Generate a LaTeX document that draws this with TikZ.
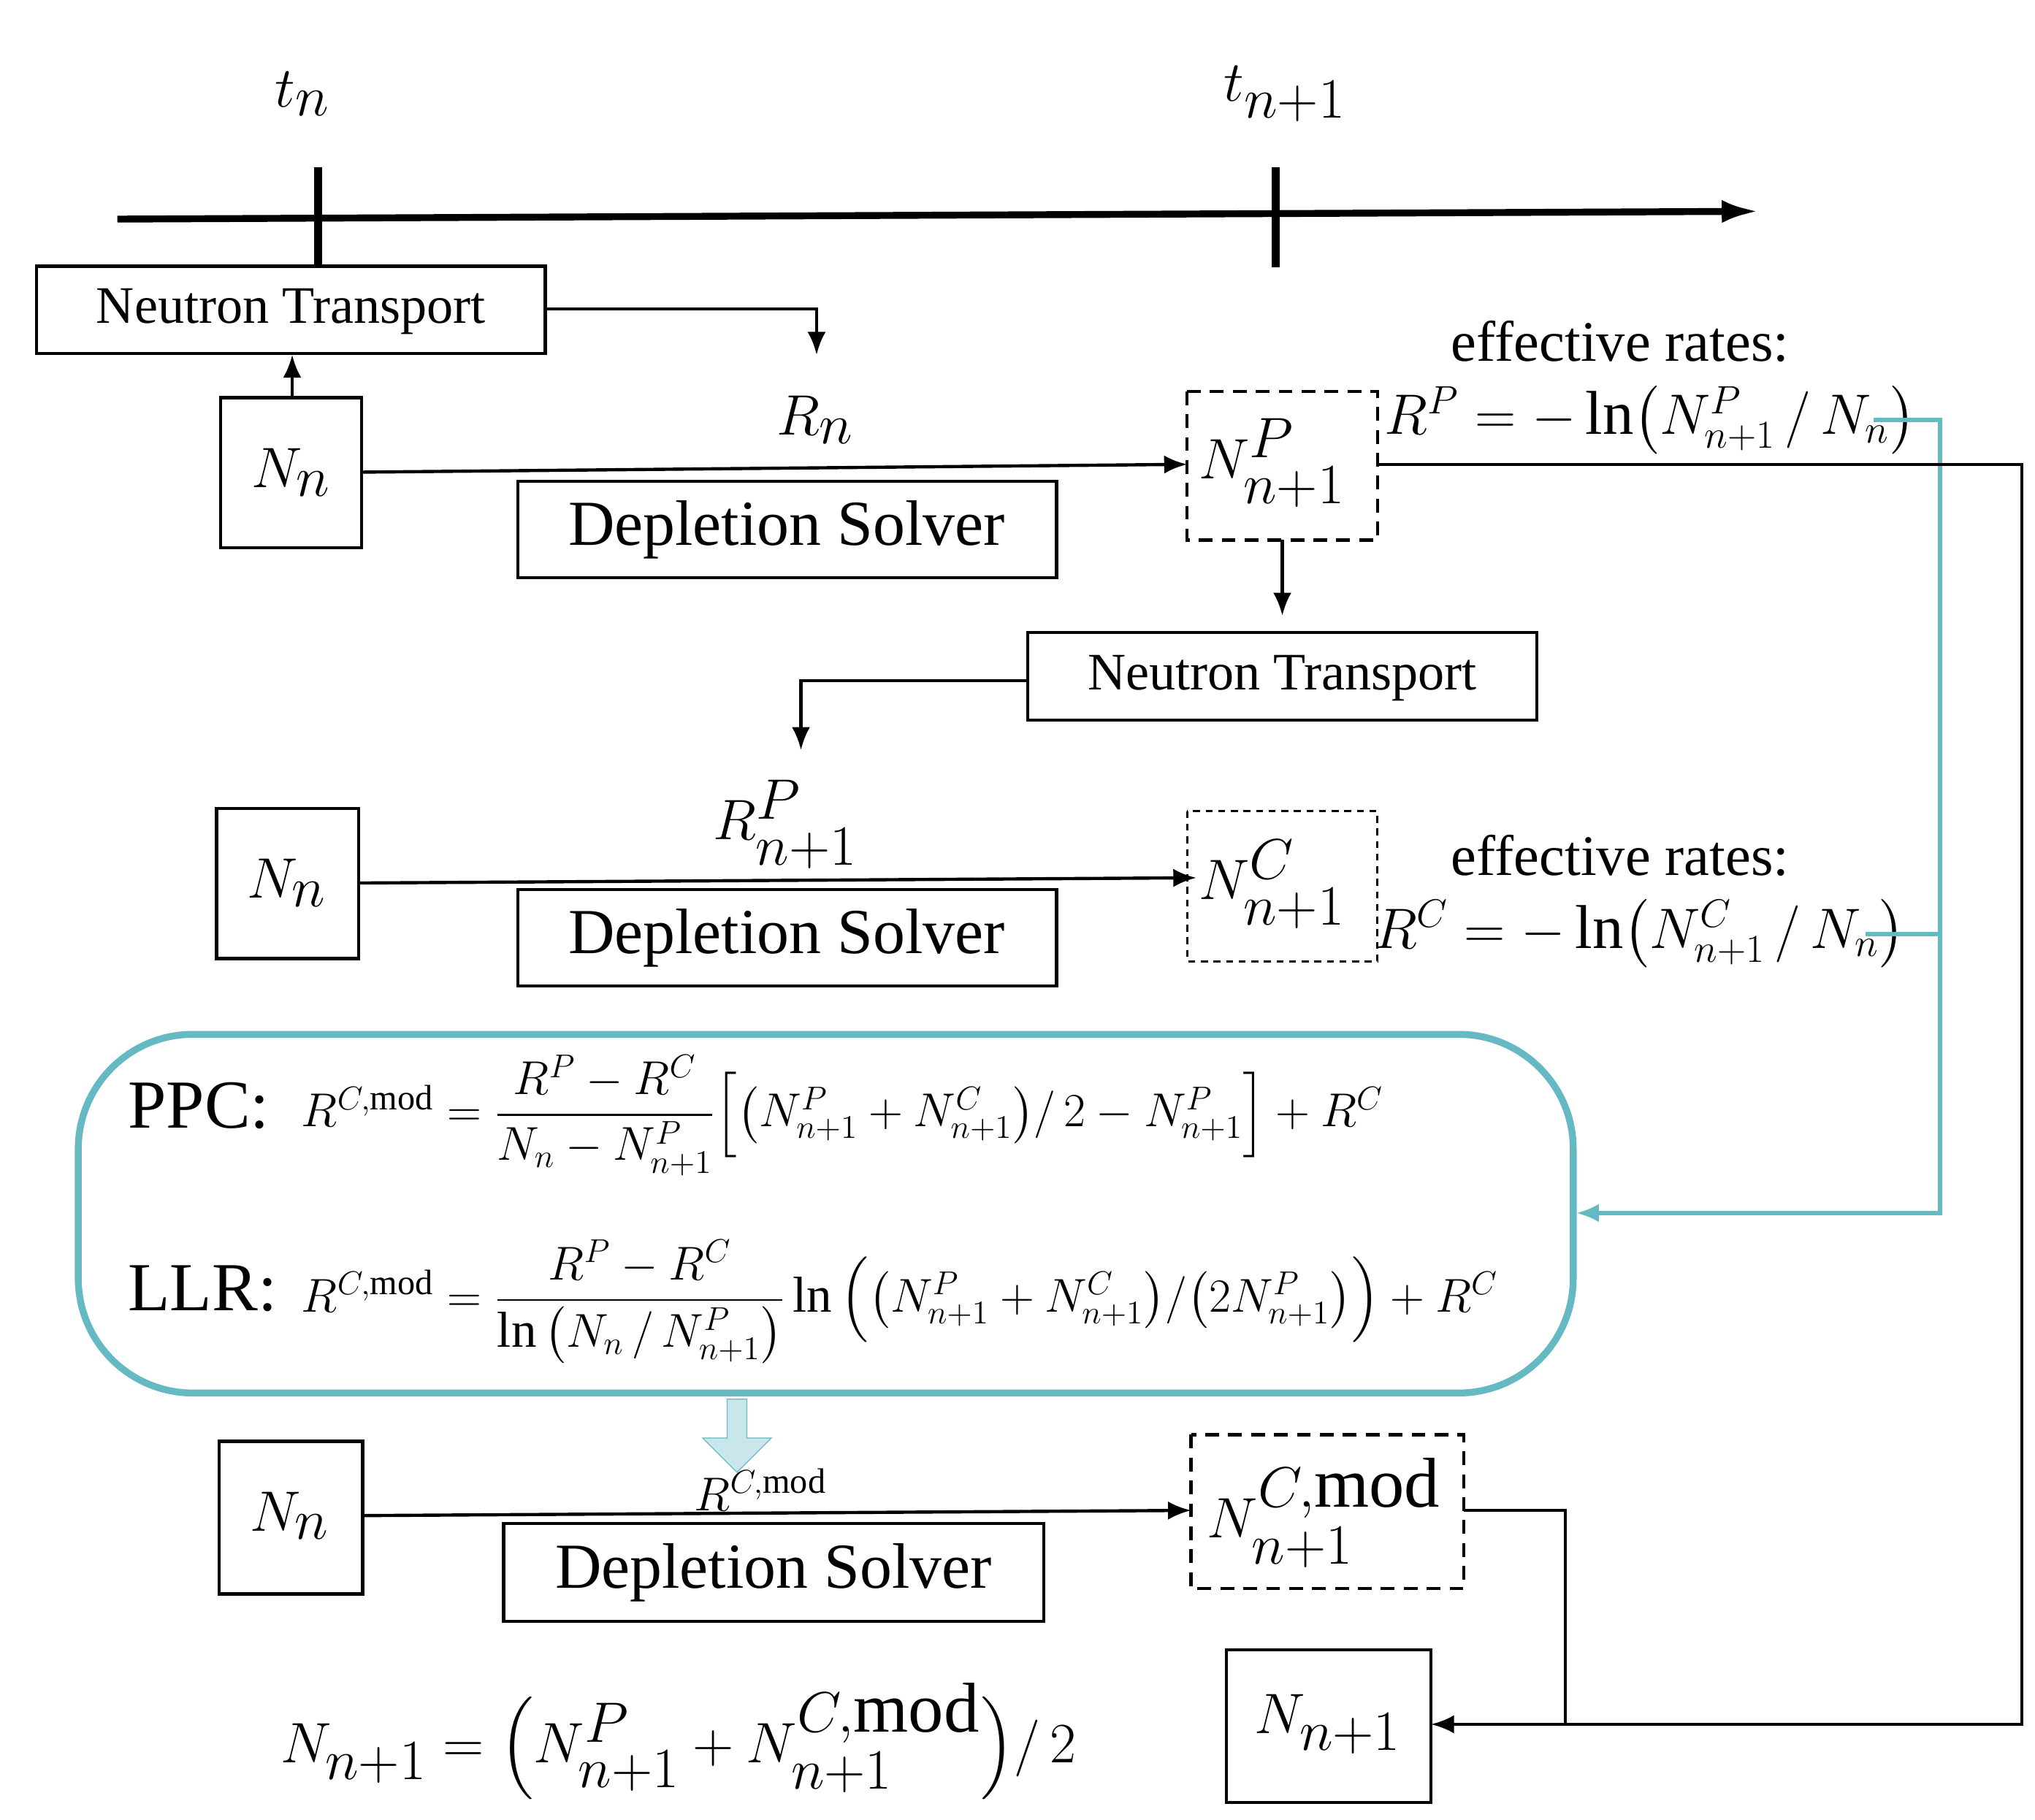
\documentclass[tikz,border=0pt]{standalone}
\usepackage{amsmath}
\usepackage{fontspec}
\setmainfont{Liberation Serif}
\usetikzlibrary{arrows.meta,shapes.arrows}
\definecolor{teal1}{RGB}{100,185,195}
\begin{document}
\begin{tikzpicture}[x=0.02cm,y=-0.02cm,
  box/.style={draw,line width=1.4pt,inner sep=0pt},
  dbox/.style={draw,line width=1.4pt,dashed,inner sep=0pt},
  ln/.style={line width=1.4pt},
  arr/.style={ln,-{Latex[length=10pt,width=8pt]}},
  txt/.style={font=\fontsize{23}{26}\selectfont},
  big/.style={font=\fontsize{44}{48}\selectfont},
  mid/.style={font=\fontsize{22}{26}\selectfont},
  tl/.style={teal1,line width=2pt}]
\useasboundingbox (0,0) rectangle (1560,1395);
% timeline
\coordinate (t0) at (90,168); \coordinate (t1) at (1348,162);
\draw[line width=3pt,-{Latex[length=16pt,width=10pt]}] (t0) -- (t1);
\draw[line width=3.5pt] (244,128) -- (244,205);
\draw[line width=3.5pt] (978,128) -- (978,205);
\node[big] (tn) at (232,72) {$t_n$};
\node[big] (tn1) at (985,72) {$t_{n+1}$};
% row 1
\draw[box] (28,204) rectangle (418,271);
\node[txt] (nt1) at (223,239) {Neutron Transport};
\draw[box] (169,305) rectangle (277,420);
\node[big] (nn1) at (223,362) {$N_n$};
\coordinate (a1) at (224,305); \coordinate (a2) at (224,272);
\draw[arr] (a1) -- (a2);
\coordinate (b1) at (418,237); \coordinate (b2) at (626,237); \coordinate (b3) at (626,272);
\draw[arr] (b1) -- (b2) -- (b3);
\node[big,font=\fontsize{36}{40}\selectfont] (rn) at (625,322) {$R_n$};
\draw[box] (397,369) rectangle (810,443);
\node[txt,font=\fontsize{28}{32}\selectfont] (ds1) at (603,406) {Depletion Solver};
\draw[dbox,dash pattern=on 6pt off 4pt] (910,300) rectangle (1056,414);
\node[big] (np) at (975,355) {$N^P_{n+1}$};
\coordinate (c1) at (277,362); \coordinate (c2) at (910,356);
\draw[arr] (c1) -- (c2);
\coordinate (d1) at (983,414); \coordinate (d2) at (983,472);
\draw[arr] (d1) -- (d2);
% row 2
\draw[box] (788,485) rectangle (1178,552);
\node[txt] (nt2) at (983,520) {Neutron Transport};
\coordinate (e1) at (788,522); \coordinate (e2) at (614,522); \coordinate (e3) at (614,575);
\draw[arr] (e1) -- (e2) -- (e3);
\node[font=\fontsize{36}{40}\selectfont] (rp) at (602,632) {$R^P_{n+1}$};
\draw[box] (166,620) rectangle (275,735);
\node[big] (nn2) at (220,677) {$N_n$};
\draw[box] (397,682) rectangle (810,756);
\node[txt,font=\fontsize{28}{32}\selectfont] (ds2) at (603,719) {Depletion Solver};
\draw[dbox,dash pattern=on 3pt off 2.5pt,line width=1pt] (910,622) rectangle (1056,737);
\node[big] (nc) at (975,678) {$N^C_{n+1}$};
\coordinate (f1) at (275,677); \coordinate (f2) at (917,673);
\draw[arr] (f1) -- (f2);
% effective rates
\node[txt,font=\fontsize{25}{28}\selectfont] (er1) at (1242,262) {effective rates:};
\node[mid,font=\fontsize{27}{30}\selectfont] (f1r) at (1265,322) {$R^P = -\ln\!\big(N^P_{n+1}\,/\,N_n\big)$};
\node[txt,font=\fontsize{25}{28}\selectfont] (er2) at (1242,656) {effective rates:};
\node[mid,font=\fontsize{27}{30}\selectfont] (f2r) at (1257,716) {$R^C = -\ln\!\big(N^C_{n+1}\,/\,N_n\big)$};
\coordinate (g1) at (1436,322); \coordinate (g2) at (1487,322); \coordinate (g3) at (1487,930); \coordinate (g4) at (1208,930);
\draw[tl,-{Latex[length=10pt,width=8pt]}] (g1) -- (g2) -- (g3) -- (g4);
\coordinate (h1) at (1430,716); \coordinate (h2) at (1487,716);
\draw[tl] (h1) -- (h2);
% black feedback
\coordinate (k1) at (1056,356); \coordinate (k2) at (1550,356); \coordinate (k3) at (1550,1322); \coordinate (k4) at (1097,1322);
\draw[arr] (k1) -- (k2) -- (k3) -- (k4);
% teal box
\draw[teal1,line width=3pt,rounded corners=50pt] (60,793) rectangle (1206,1068);
\node[txt,font=\fontsize{30}{32}\selectfont,anchor=west] (ppc) at (92,848) {PPC:};
\node[mid,anchor=west] (ppcf) at (225,855) {$R^{C,\mathrm{mod}} = \dfrac{R^P - R^C}{N_n - N^P_{n+1}}\Big[\big(N^P_{n+1}+N^C_{n+1}\big)/\,2 - N^P_{n+1}\Big] + R^C$};
\node[txt,font=\fontsize{30}{32}\selectfont,anchor=west] (llr) at (92,988) {LLR:};
\node[mid,anchor=west] (llrf) at (225,998) {$R^{C,\mathrm{mod}} = \dfrac{R^P - R^C}{\ln\big(N_n\,/\,N^P_{n+1}\big)}\ln\Big(\big(N^P_{n+1}+N^C_{n+1}\big)/\big(2N^P_{n+1}\big)\Big) + R^C$};
\node[single arrow,shape border rotate=270,draw=teal1,fill=teal1!35,minimum height=32pt,minimum width=30pt,single arrow head extend=3pt,inner sep=1pt] (ba) at (565,1097) {};
% row 3
\draw[box] (168,1105) rectangle (278,1222);
\node[big] (nn3) at (222,1162) {$N_n$};
\node[mid] (rcm) at (583,1142) {$R^{C,\mathrm{mod}}$};
\draw[box] (386,1168) rectangle (800,1243);
\node[txt,font=\fontsize{28}{32}\selectfont] (ds3) at (593,1206) {Depletion Solver};
\draw[dbox,dash pattern=on 6pt off 4pt] (913,1100) rectangle (1122,1218);
\node[big] (ncm) at (1015,1160) {$N^{C,\mathrm{mod}}_{n+1}$};
\coordinate (m1) at (278,1162); \coordinate (m2) at (913,1158);
\draw[arr] (m1) -- (m2);
\coordinate (p1) at (1122,1158); \coordinate (p2) at (1200,1158); \coordinate (p3) at (1200,1322);
\draw[ln] (p1) -- (p2) -- (p3);
\draw[box] (940,1265) rectangle (1097,1382);
\node[big] (nn1b) at (1018,1322) {$N_{n+1}$};
\node[big] (eq) at (520,1335) {$N_{n+1} = \Big(N^P_{n+1} + N^{C,\mathrm{mod}}_{n+1}\Big)/\,2$};
\end{tikzpicture}
\end{document}
